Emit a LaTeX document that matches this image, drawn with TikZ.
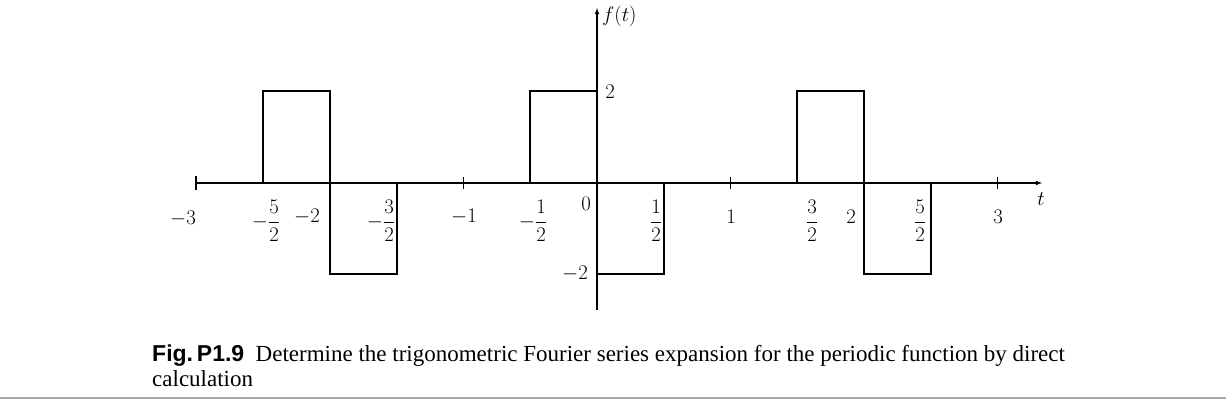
\documentclass[tikz,border=0pt]{standalone}
\usepackage{fontspec}
\setmainfont{Liberation Serif}
\newfontfamily\capsans{Liberation Sans}
\begin{document}
\begin{tikzpicture}[x=1pt,y=-1pt,
  lab/.style={font=\fontsize{20}{24}\selectfont, inner sep=1pt},
  wave/.style={line width=1.6pt},
  ax/.style={line width=1.1pt}]
\useasboundingbox (0,0) rectangle (1226,405);
\def\X#1{597+133.5*(#1)}
\def\fr#1#2{{\displaystyle\frac{#1}{#2}}}
% axes
\draw[ax,-latex] (196,183) -- (1042,183);
\draw[ax,-latex] (597,310) -- (597,8);
\draw[ax] (196,176) -- (196,190);
\foreach \t in {-1,1,3} \draw[ax] ({\X{\t}},177) -- ({\X{\t}},189);
% waveform
\draw[wave] (196,183) -- ({\X{-2.5}},183) -- ({\X{-2.5}},91) -- ({\X{-2}},91) -- ({\X{-2}},274) -- ({\X{-1.5}},274) -- ({\X{-1.5}},183)
 -- ({\X{-0.5}},183) -- ({\X{-0.5}},91) -- (597,91) -- (597,274) -- ({\X{0.5}},274) -- ({\X{0.5}},183)
 -- ({\X{1.5}},183) -- ({\X{1.5}},91) -- ({\X{2}},91) -- ({\X{2}},274) -- ({\X{2.5}},274) -- ({\X{2.5}},183) -- (1000,183);
% labels
\node[lab] (lm3) at (183,219) {$-3$};
\node[lab] (lm52) at (266,221) {$-\fr{5}{2}$};
\node[lab] (lm2) at (307,217) {$-2$};
\node[lab] (lm32) at (381,221) {$-\fr{3}{2}$};
\node[lab] (lm1) at (464,217) {$-1$};
\node[lab] (lm12) at (533,221) {$-\fr{1}{2}$};
\node[lab] (l0) at (586,204) {$0$};
\node[lab] (l12) at (656,221) {$\fr{1}{2}$};
\node[lab] (l1) at (731,217) {$1$};
\node[lab] (l32) at (812,221) {$\fr{3}{2}$};
\node[lab] (l2) at (851,217) {$2$};
\node[lab] (l52) at (920,221) {$\fr{5}{2}$};
\node[lab] (l3) at (998,217) {$3$};
\node[lab] (lt) at (1041,199) {$t$};
\node[lab] (ly2) at (610,92) {$2$};
\node[lab] (lym2) at (575,274) {$-2$};
\node[lab,anchor=west] (lf) at (601,16) {$f(t)$};
% caption
\node[anchor=west, inner sep=0pt, font=\fontsize{23}{27}\selectfont] (cap1) at (152,356)
  {{\capsans\bfseries Fig.\,P1.9}\enspace Determine the trigonometric Fourier series expansion for the periodic function by direct};
\node[anchor=west, inner sep=0pt, font=\fontsize{23}{27}\selectfont] (cap2) at (152,379) {calculation};
\draw[gray!70, line width=1.5pt] (0,398) -- (1226,398);
\end{tikzpicture}
\end{document}
